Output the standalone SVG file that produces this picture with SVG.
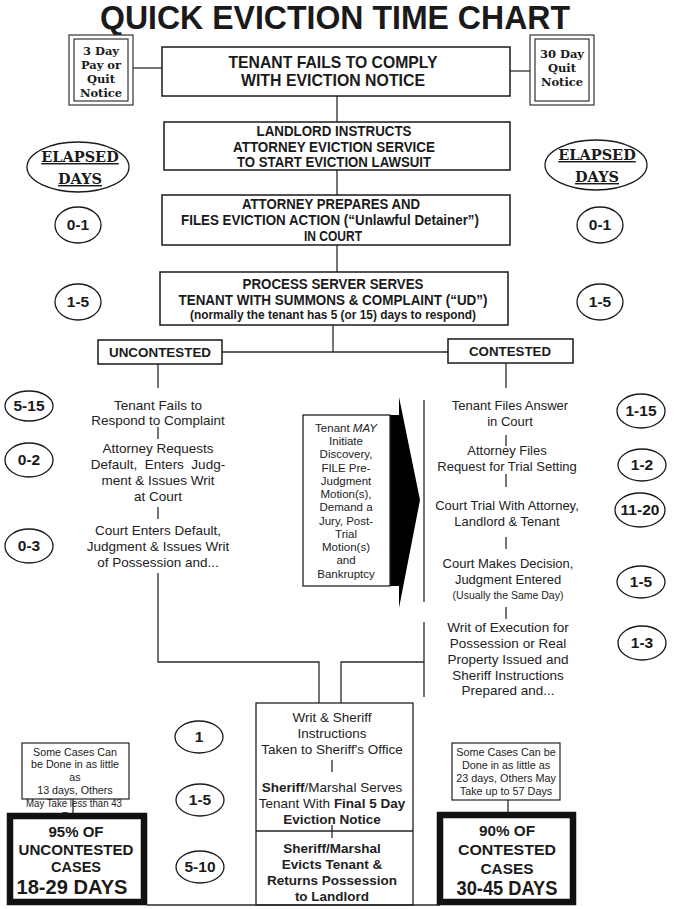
<svg xmlns="http://www.w3.org/2000/svg" width="685" height="909" viewBox="0 0 685 909">
<style>
.bx{fill:#fff;stroke:#1a1a1a;stroke-width:1.5}
.ln{fill:none;stroke:#2a2a2a;stroke-width:1.3}
.ov{fill:#fff;stroke:#1a1a1a;stroke-width:1.3}
.thick{fill:#fff;stroke:#111;stroke-width:6.5}
.hd{font-family:"Liberation Sans Narrow","Arial Narrow","Liberation Sans",Arial,sans-serif;font-weight:bold;text-anchor:middle;fill:#1a1a1a}
.tx{font-family:"Liberation Sans",Arial,sans-serif;text-anchor:middle;fill:#222}
.sf{font-family:"DejaVu Serif","Liberation Serif",serif;font-weight:bold;text-anchor:middle;fill:#1a1a1a}
.num{font-family:"Liberation Sans",Arial,sans-serif;font-weight:bold;font-size:15.5px;text-anchor:middle;fill:#1a1a1a}
.b{font-weight:bold}
</style>
<rect width="685" height="909" fill="#fff"/>
<text id="title" class="hd" x="335" y="29" font-size="33" textLength="470" lengthAdjust="spacingAndGlyphs">QUICK EVICTION TIME CHART</text>

<g id="connectors">
<line class="ln" x1="133" y1="68" x2="162" y2="68"/>
<line class="ln" x1="510" y1="71" x2="530" y2="71"/>
<line class="ln" x1="337" y1="96" x2="337" y2="122"/>
<line class="ln" x1="337" y1="170" x2="337" y2="195"/>
<line class="ln" x1="337" y1="245" x2="337" y2="272"/>
<line class="ln" x1="333" y1="325" x2="333" y2="352"/>
<line class="ln" x1="222" y1="352" x2="448" y2="352"/>
<line class="ln" x1="158" y1="364" x2="158" y2="388"/>
<line class="ln" x1="158" y1="427" x2="158" y2="439"/>
<line class="ln" x1="158" y1="507" x2="158" y2="519"/>
<polyline class="ln" points="158,573 158,662 319,662 319,703"/>
<line class="ln" x1="506" y1="363" x2="506" y2="388"/>
<line class="ln" x1="506" y1="435" x2="506" y2="446"/>
<line class="ln" x1="506" y1="474" x2="506" y2="487"/>
<line class="ln" x1="506" y1="537" x2="506" y2="549"/>
<line class="ln" x1="506" y1="607" x2="506" y2="619"/>
<line class="ln" x1="424" y1="400" x2="424" y2="602"/>
<line class="ln" x1="424" y1="622" x2="424" y2="697"/>
<polyline class="ln" points="424,662 341,662 341,703"/>
<line class="ln" x1="332" y1="760" x2="332" y2="772"/>
<line class="ln" x1="332" y1="825" x2="332" y2="838"/>
<line class="ln" x1="147" y1="905" x2="440" y2="905"/>
<line class="ln" x1="508" y1="800" x2="508" y2="812"/>
</g>

<g id="n-3day">
<rect x="69" y="35" width="64" height="70" fill="#fff" stroke="#333" stroke-width="1.2"/>
<rect x="74" y="39" width="54" height="62" fill="none" stroke="#333" stroke-width="1.2"/>
<text class="sf" font-size="11.5" x="101" y="55">3 Day</text>
<text class="sf" font-size="11.5" x="101" y="69">Pay or</text>
<text class="sf" font-size="11.5" x="101" y="83">Quit</text>
<text class="sf" font-size="11.5" x="101" y="97">Notice</text>
</g>
<g id="n-30day">
<rect x="530" y="35" width="64" height="70" fill="#fff" stroke="#333" stroke-width="1.2"/>
<rect x="535" y="39" width="54" height="62" fill="none" stroke="#333" stroke-width="1.2"/>
<text class="sf" font-size="11.5" x="562" y="58">30 Day</text>
<text class="sf" font-size="11.5" x="562" y="72">Quit</text>
<text class="sf" font-size="11.5" x="562" y="86">Notice</text>
</g>

<g id="n-fails">
<rect class="bx" x="162" y="47" width="348" height="49"/>
<text class="hd" font-size="16.5" x="333" y="68" textLength="209" lengthAdjust="spacingAndGlyphs">TENANT FAILS TO COMPLY</text>
<text class="hd" font-size="16.5" x="333" y="86" textLength="184" lengthAdjust="spacingAndGlyphs">WITH EVICTION NOTICE</text>
</g>
<g id="n-landlord">
<rect class="bx" x="164" y="122" width="346" height="48"/>
<text class="hd" font-size="14.5" x="334" y="136" textLength="155" lengthAdjust="spacingAndGlyphs">LANDLORD INSTRUCTS</text>
<text class="hd" font-size="14.5" x="334" y="152" textLength="202" lengthAdjust="spacingAndGlyphs">ATTORNEY EVICTION SERVICE</text>
<text class="hd" font-size="14.5" x="334" y="167" textLength="194" lengthAdjust="spacingAndGlyphs">TO START EVICTION LAWSUIT</text>
</g>
<g id="n-attorney">
<rect class="bx" x="162" y="195" width="348" height="50"/>
<text class="hd" font-size="14.5" x="331" y="209" textLength="178" lengthAdjust="spacingAndGlyphs">ATTORNEY PREPARES AND</text>
<text class="hd" font-size="14.5" x="330" y="225" textLength="298" lengthAdjust="spacingAndGlyphs">FILES EVICTION ACTION (“Unlawful Detainer”)</text>
<text class="hd" font-size="14.5" x="333" y="241" textLength="58" lengthAdjust="spacingAndGlyphs">IN COURT</text>
</g>
<g id="n-process">
<rect class="bx" x="160" y="272" width="348" height="53"/>
<text class="hd" font-size="14.5" x="333" y="289" textLength="181" lengthAdjust="spacingAndGlyphs">PROCESS SERVER SERVES</text>
<text class="hd" font-size="14.5" x="333" y="305" textLength="309" lengthAdjust="spacingAndGlyphs">TENANT WITH SUMMONS &amp; COMPLAINT (“UD”)</text>
<text class="hd" font-size="12" x="333" y="319" textLength="286" lengthAdjust="spacingAndGlyphs">(normally the tenant has 5 (or 15) days to respond)</text>
</g>

<g id="n-elapsed-l">
<ellipse class="ov" cx="78" cy="167" rx="51" ry="25"/>
<text class="sf" font-size="14.5" x="80" y="162" text-decoration="underline">ELAPSED</text>
<text class="sf" font-size="14.5" x="80" y="184" text-decoration="underline">DAYS</text>
</g>
<g id="n-elapsed-r">
<ellipse class="ov" cx="596" cy="165" rx="51" ry="25"/>
<text class="sf" font-size="14.5" x="597" y="160" text-decoration="underline">ELAPSED</text>
<text class="sf" font-size="14.5" x="597" y="182" text-decoration="underline">DAYS</text>
</g>

<g id="n-d01l"><ellipse class="ov" cx="78" cy="225" rx="23" ry="18"/><text class="num" x="78" y="230">0-1</text></g>
<g id="n-d15l"><ellipse class="ov" cx="78" cy="302" rx="23" ry="18"/><text class="num" x="78" y="307">1-5</text></g>
<g id="n-d01r"><ellipse class="ov" cx="600" cy="225" rx="23" ry="18"/><text class="num" x="600" y="230">0-1</text></g>
<g id="n-d15r"><ellipse class="ov" cx="600" cy="302" rx="23" ry="18"/><text class="num" x="600" y="307">1-5</text></g>

<g id="n-uncontested">
<rect class="bx" x="98" y="340" width="124" height="24"/>
<text class="hd" font-size="13" x="160" y="357" textLength="102" lengthAdjust="spacingAndGlyphs">UNCONTESTED</text>
</g>
<g id="n-contested">
<rect class="bx" x="448" y="339" width="125" height="24"/>
<text class="hd" font-size="13" x="510" y="356" textLength="82" lengthAdjust="spacingAndGlyphs">CONTESTED</text>
</g>

<g id="n-u1">
<text class="tx" font-size="13.5" x="158" y="410">Tenant Fails to</text>
<text class="tx" font-size="13.5" x="158" y="425">Respond to Complaint</text>
</g>
<g id="n-u2">
<text class="tx" font-size="13.5" x="158" y="453">Attorney Requests</text>
<text class="tx" font-size="13.5" x="158" y="469" xml:space="preserve">Default,  Enters  Judg-</text>
<text class="tx" font-size="13.5" x="158" y="485">ment &amp; Issues Writ</text>
<text class="tx" font-size="13.5" x="158" y="501">at Court</text>
</g>
<g id="n-u3">
<text class="tx" font-size="13.5" x="158" y="535">Court Enters Default,</text>
<text class="tx" font-size="13.5" x="158" y="551">Judgment &amp; Issues Writ</text>
<text class="tx" font-size="13.5" x="158" y="567">of Possession and...</text>
</g>
<g id="n-d515"><ellipse class="ov" cx="29" cy="406" rx="24" ry="15"/><text class="num" x="29" y="411">5-15</text></g>
<g id="n-d02"><ellipse class="ov" cx="29" cy="460" rx="24" ry="17"/><text class="num" x="29" y="465">0-2</text></g>
<g id="n-d03"><ellipse class="ov" cx="29" cy="546" rx="24" ry="17"/><text class="num" x="29" y="551">0-3</text></g>

<g id="n-may">
<polygon points="380,415 399,415 399,397 420,500 399,608 399,586 380,586" fill="#000"/>
<rect x="303" y="415" width="87" height="171" fill="#fff" stroke="#222" stroke-width="1.3"/>
<text class="tx" font-size="11.5" x="346" y="432">Tenant <tspan font-style="italic">MAY</tspan></text>
<text class="tx" font-size="11.5" x="346" y="445">Initiate</text>
<text class="tx" font-size="11.5" x="346" y="458">Discovery,</text>
<text class="tx" font-size="11.5" x="346" y="472">FILE Pre-</text>
<text class="tx" font-size="11.5" x="346" y="485">Judgment</text>
<text class="tx" font-size="11.5" x="346" y="498">Motion(s),</text>
<text class="tx" font-size="11.5" x="346" y="511">Demand a</text>
<text class="tx" font-size="11.5" x="346" y="525">Jury, Post-</text>
<text class="tx" font-size="11.5" x="346" y="538">Trial</text>
<text class="tx" font-size="11.5" x="346" y="551">Motion(s)</text>
<text class="tx" font-size="11.5" x="346" y="564">and</text>
<text class="tx" font-size="11.5" x="346" y="578">Bankruptcy</text>
</g>

<g id="n-c1">
<text class="tx" font-size="13" x="510" y="410">Tenant Files Answer</text>
<text class="tx" font-size="13" x="510" y="426">in Court</text>
</g>
<g id="n-c2">
<text class="tx" font-size="13" x="507" y="455">Attorney Files</text>
<text class="tx" font-size="13" x="507" y="471">Request for Trial Setting</text>
</g>
<g id="n-c3">
<text class="tx" font-size="13" x="507" y="510">Court Trial With Attorney,</text>
<text class="tx" font-size="13" x="507" y="526">Landlord &amp; Tenant</text>
</g>
<g id="n-c4">
<text class="tx" font-size="13" x="508" y="568">Court Makes Decision,</text>
<text class="tx" font-size="13" x="508" y="584">Judgment Entered</text>
<text class="tx" font-size="10.5" x="508" y="599">(Usually the Same Day)</text>
</g>
<g id="n-c5">
<text class="tx" font-size="13.5" x="508" y="632">Writ of Execution for</text>
<text class="tx" font-size="13.5" x="508" y="648">Possession or Real</text>
<text class="tx" font-size="13.5" x="508" y="664">Property Issued and</text>
<text class="tx" font-size="13.5" x="508" y="680">Sheriff Instructions</text>
<text class="tx" font-size="13.5" x="508" y="695">Prepared and...</text>
</g>
<g id="n-d115"><ellipse class="ov" cx="641" cy="411" rx="24" ry="17"/><text class="num" x="641" y="416">1-15</text></g>
<g id="n-d12"><ellipse class="ov" cx="642" cy="465" rx="24" ry="16"/><text class="num" x="642" y="470">1-2</text></g>
<g id="n-d1120"><ellipse class="ov" cx="640" cy="510" rx="25" ry="17"/><text class="num" x="640" y="515" font-size="16">11-20</text></g>
<g id="n-d15c"><ellipse class="ov" cx="641" cy="582" rx="24" ry="16"/><text class="num" x="641" y="587">1-5</text></g>
<g id="n-d13"><ellipse class="ov" cx="642" cy="643" rx="24" ry="17"/><text class="num" x="642" y="648">1-3</text></g>

<g id="n-writ">
<rect x="256" y="703" width="157" height="202" fill="none" stroke="#222" stroke-width="1.3"/>
<line x1="256" y1="831" x2="413" y2="831" stroke="#222" stroke-width="1.3"/>
<text class="tx" font-size="13.5" x="332" y="722">Writ &amp; Sheriff</text>
<text class="tx" font-size="13.5" x="332" y="738">Instructions</text>
<text class="tx" font-size="13.5" x="332" y="754">Taken to Sheriff's Office</text>
<text class="tx" font-size="13.5" x="332" y="792"><tspan class="b">Sheriff</tspan>/Marshal Serves</text>
<text class="tx" font-size="13.5" x="332" y="808">Tenant With <tspan class="b">Final 5 Day</tspan></text>
<text class="tx b" font-size="13.5" x="332" y="824">Eviction Notice</text>
<text class="tx b" font-size="13.5" x="332" y="853">Sheriff/Marshal</text>
<text class="tx b" font-size="13.5" x="332" y="869">Evicts Tenant &amp;</text>
<text class="tx b" font-size="13.5" x="332" y="885">Returns Possession</text>
<text class="tx b" font-size="13.5" x="332" y="901">to Landlord</text>
</g>
<g id="n-d1"><ellipse class="ov" cx="199" cy="737" rx="24" ry="16"/><text class="num" x="199" y="742">1</text></g>
<g id="n-d15b"><ellipse class="ov" cx="200" cy="800" rx="24" ry="16"/><text class="num" x="200" y="805">1-5</text></g>
<g id="n-d510"><ellipse class="ov" cx="200" cy="867" rx="24" ry="16"/><text class="num" x="200" y="872">5-10</text></g>

<g id="n-unc-note">
<rect x="22" y="743" width="107" height="56" fill="#fff" stroke="#222" stroke-width="1.2"/>
<text class="tx" font-size="10.7" x="75" y="756">Some Cases Can</text>
<text class="tx" font-size="10.7" x="75" y="768">be Done in as little</text>
<text class="tx" font-size="10.7" x="75" y="781">as</text>
<text class="tx" font-size="10.7" x="75" y="794">13 days, Others</text>
<text class="tx" font-size="10.7" x="74" y="807" textLength="96" lengthAdjust="spacingAndGlyphs">May Take less than 43</text>
<text class="tx" font-size="10.7" x="74" y="820">Days</text>
<line class="ln" x1="73" y1="799" x2="73" y2="813"/>
</g>
<g id="n-unc-total">
<rect class="thick" x="10" y="816" width="134" height="86"/>
<text class="hd" font-size="15.5" x="76" y="837" textLength="55" lengthAdjust="spacingAndGlyphs">95% OF</text>
<text class="hd" font-size="15.5" x="76" y="855" textLength="115" lengthAdjust="spacingAndGlyphs">UNCONTESTED</text>
<text class="hd" font-size="15.5" x="76" y="872" textLength="50" lengthAdjust="spacingAndGlyphs">CASES</text>
<text class="hd" font-size="19.5" x="72" y="894" textLength="111" lengthAdjust="spacingAndGlyphs">18-29 DAYS</text>
</g>

<g id="n-con-note">
<rect x="452" y="743" width="108" height="57" fill="#fff" stroke="#222" stroke-width="1.2"/>
<text class="tx" font-size="10.8" x="506" y="756">Some Cases Can be</text>
<text class="tx" font-size="10.8" x="506" y="769">Done in as little as</text>
<text class="tx" font-size="10.8" x="506" y="782">23 days, Others May</text>
<text class="tx" font-size="10.8" x="506" y="795">Take up to 57 Days</text>
</g>
<g id="n-con-total">
<rect class="thick" x="440" y="815" width="133" height="87"/>
<text class="hd" font-size="15.5" x="507" y="836" textLength="56" lengthAdjust="spacingAndGlyphs">90% OF</text>
<text class="hd" font-size="15.5" x="507" y="855" textLength="98" lengthAdjust="spacingAndGlyphs">CONTESTED</text>
<text class="hd" font-size="15.5" x="507" y="874" textLength="53" lengthAdjust="spacingAndGlyphs">CASES</text>
<text class="hd" font-size="19.5" x="507" y="895" textLength="101" lengthAdjust="spacingAndGlyphs">30-45 DAYS</text>
</g>
</svg>
